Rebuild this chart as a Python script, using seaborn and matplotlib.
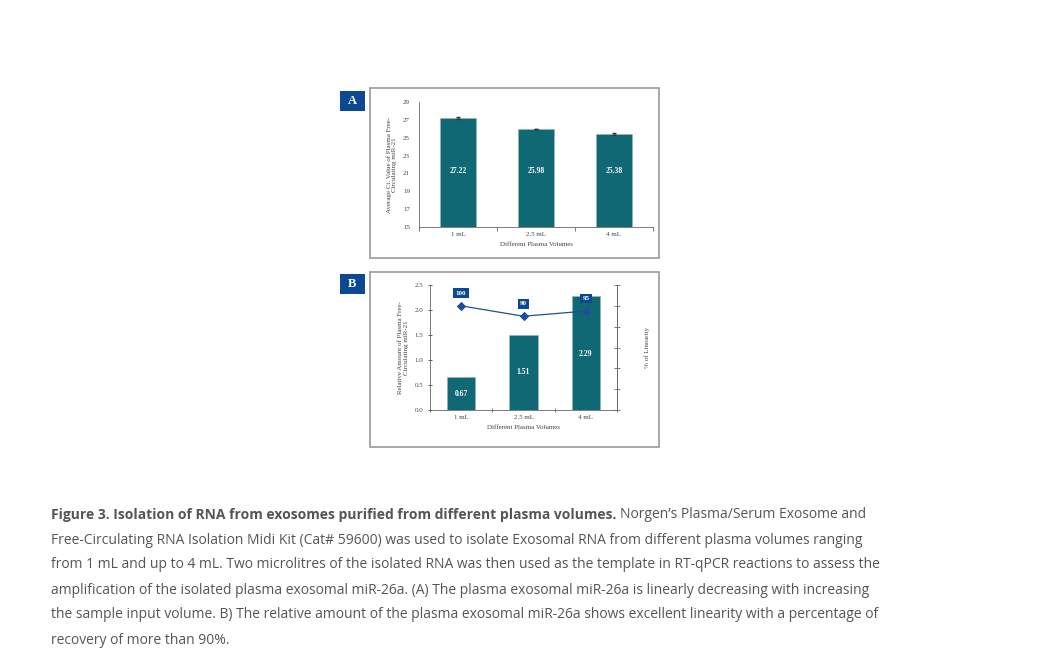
import matplotlib
matplotlib.use("Agg")
import matplotlib.pyplot as plt
import seaborn as sns
import pandas as pd
from matplotlib.patches import Rectangle

volumes = ["1 mL", "2.5 mL", "4 mL"]
ct_values = [27.22, 25.98, 25.38]
ct_err = [0.1, 0.0, 0.1]
rel_amount = [0.67, 1.51, 2.29]
linearity = [100, 90, 95]

sns.set_theme(style="white")
plt.rcParams['font.family'] = ['Liberation Serif', 'DejaVu Serif']

W, H = 1047, 661
fig = plt.figure(figsize=(W/100, H/100), dpi=100)
fig.patch.set_facecolor("white")

def ax_px(x0, y0, x1, y1):
    return fig.add_axes([x0/W, 1-y1/H, (x1-x0)/W, (y1-y0)/H])

def frame(x0, y0, x1, y1):
    fig.patches.append(Rectangle((x0/W, 1-y1/H), (x1-x0)/W, (y1-y0)/H, transform=fig.transFigure,
                                 fill=False, edgecolor="#9a9a9a", lw=1.2))

def label_box(x0, y0, txt):
    fig.patches.append(Rectangle((x0/W, 1-(y0+20)/H), 25/W, 20/H, transform=fig.transFigure,
                                 facecolor="#0b4a92", edgecolor="none"))
    fig.text((x0+12.5)/W, 1-(y0+10)/H, txt, color="white", fontsize=9, fontweight="bold",
             ha="center", va="center")

bar_col = "#0f6873"
tick_kw = dict(labelsize=5, colors="#444444", length=3, width=0.6)

# Panel A
frame(370, 88, 659, 258)
label_box(340, 91, "A")
axA = ax_px(419, 102, 653, 227)
dfA = pd.DataFrame({"vol": volumes, "ct": ct_values})
sns.barplot(data=dfA, x="vol", y="ct", ax=axA, color=bar_col, width=0.45, saturation=1,
            edgecolor="#8fb5ba", linewidth=0.5)
axA.errorbar(range(3), ct_values, yerr=ct_err, fmt="none", ecolor="#333333", elinewidth=0.6, capsize=1.5)
axA.set_ylim(15, 29)
axA.set_yticks(range(15, 30, 2))
axA.set_xlim(-0.5, 2.5)
for i, v in enumerate(ct_values):
    axA.text(i, 21.3, f"{v:.2f}", color="white", fontsize=5.5, fontweight="bold", ha="center", va="center")
axA.set_xlabel("Different Plasma Volumes", fontsize=5, color="#444444")
axA.set_ylabel("Average Ct. Value of Plasma Free-\nCirculating miR-21", fontsize=5, color="#444444")
for s in ["top", "right"]:
    axA.spines[s].set_visible(False)
for s in ["left", "bottom"]:
    axA.spines[s].set_color("#666666"); axA.spines[s].set_linewidth(0.6)
axA.tick_params(axis="both", direction="out", **tick_kw)
axA.set_xticks([-0.5, 0.5, 1.5, 2.5], minor=True)
axA.tick_params(axis="x", which="major", length=0)
axA.tick_params(axis="x", which="minor", length=3, width=0.6, colors="#666666", bottom=True)
axA.patch.set_alpha(0)

# Panel B
frame(370, 272, 659, 447)
label_box(340, 274, "B")
axB = ax_px(430, 285, 617, 410)
dfB = pd.DataFrame({"vol": volumes, "amt": rel_amount})
sns.barplot(data=dfB, x="vol", y="amt", ax=axB, color=bar_col, width=0.45, saturation=1,
            edgecolor="#8fb5ba", linewidth=0.5)
axB.set_ylim(0, 2.5)
axB.set_yticks([0, 0.5, 1.0, 1.5, 2.0, 2.5])
axB.set_yticklabels(["0.0", "0.5", "1.0", "1.5", "2.0", "2.5"])
axB.set_xlim(-0.5, 2.5)
lab_y = [0.33, 0.75, 1.12]
for i, v in enumerate(rel_amount):
    axB.text(i, lab_y[i], f"{v:.2f}", color="white", fontsize=5.5, fontweight="bold", ha="center", va="center")
axB.set_xlabel("Different Plasma Volumes", fontsize=5, color="#444444")
axB.set_ylabel("Relative Amount of Plasma Free-\nCirculating miR-21", fontsize=5, color="#444444")
axB.spines["top"].set_visible(False)
for s in ["left", "bottom", "right"]:
    axB.spines[s].set_color("#666666"); axB.spines[s].set_linewidth(0.6)
axB.tick_params(axis="y", direction="inout", **tick_kw)
axB.set_xticks([-0.5, 0.5, 1.5, 2.5], minor=True)
axB.tick_params(axis="x", which="major", length=0, labelsize=5, colors="#444444")
axB.tick_params(axis="x", which="minor", length=3, width=0.6, colors="#666666", bottom=True, direction="inout")
axB.patch.set_alpha(0)
axR = axB.twinx()
axR.set_ylim(0, 120)
axR.set_yticks(range(0, 121, 20))
axR.set_yticklabels([])
axR.tick_params(axis="y", direction="inout", length=4, width=0.6, colors="#666666")
for s in ["top", "left", "bottom"]:
    axR.spines[s].set_visible(False)
axR.spines["right"].set_color("#666666"); axR.spines["right"].set_linewidth(0.6)
sns.lineplot(x=[0, 1, 2], y=linearity, ax=axR, color="#1d4f9b", marker="D", markersize=4,
             markeredgecolor="#1d4f9b", lw=0.9)
for i, v in enumerate(linearity):
    axR.text(i, v + 12, str(v), color="white", fontsize=5, fontweight="bold", ha="center", va="center",
             bbox=dict(boxstyle="square,pad=0.35", fc="#0b4a92", ec="none"))
axR.set_ylabel("% of Linearity", fontsize=5, color="#444444", labelpad=14)

# Caption
cap_font = dict(family=["Open Sans", "DejaVu Sans"], fontsize=10, color="#555555")
lines = [
    "Free-Circulating RNA Isolation Midi Kit (Cat# 59600) was used to isolate Exosomal RNA from different plasma volumes ranging",
    "from 1 mL and up to 4 mL. Two microlitres of the isolated RNA was then used as the template in RT-qPCR reactions to assess the",
    "amplification of the isolated plasma exosomal miR-26a. (A) The plasma exosomal miR-26a is linearly decreasing with increasing",
    "the sample input volume. B) The relative amount of the plasma exosomal miR-26a shows excellent linearity with a percentage of",
    "recovery of more than 90%.",
]
bold = fig.text(51/W, 1-515/H, "Figure 3. Isolation of RNA from exosomes purified from different plasma volumes.",
                fontweight="bold", va="center", **cap_font)
fig.canvas.draw()
bb = bold.get_window_extent()
fig.text((bb.x1 + 4)/W, 1-515/H, "Norgen’s Plasma/Serum Exosome and", va="center", **cap_font)
for k, ln in enumerate(lines):
    fig.text(51/W, 1-(540 + 25*k)/H, ln, va="center", **cap_font)

fig.savefig("out.png", dpi=100, facecolor="white")
